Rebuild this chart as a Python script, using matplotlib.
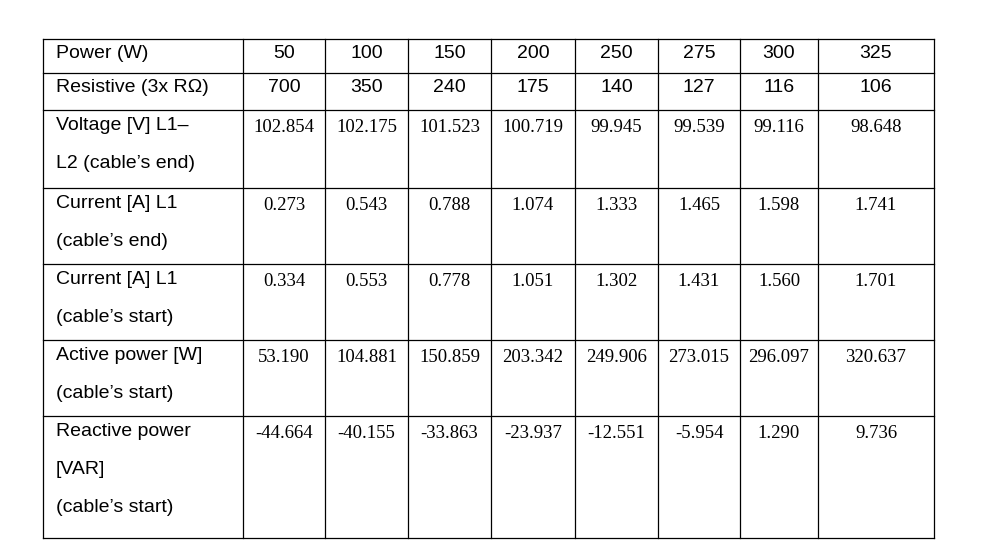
import matplotlib
matplotlib.use("Agg")
import matplotlib.pyplot as plt

power = ["50", "100", "150", "200", "250", "275", "300", "325"]
resistive = ["700", "350", "240", "175", "140", "127", "116", "106"]
voltage = ["102.854", "102.175", "101.523", "100.719", "99.945", "99.539", "99.116", "98.648"]
current_end = ["0.273", "0.543", "0.788", "1.074", "1.333", "1.465", "1.598", "1.741"]
current_start = ["0.334", "0.553", "0.778", "1.051", "1.302", "1.431", "1.560", "1.701"]
active = ["53.190", "104.881", "150.859", "203.342", "249.906", "273.015", "296.097", "320.637"]
reactive = ["-44.664", "-40.155", "-33.863", "-23.937", "-12.551", "-5.954", "1.290", "9.736"]

row_labels = [["Power (W)"], ["Resistive (3x R\u03a9)"], ["Voltage [V] L1\u2013", "L2 (cable\u2019s end)"],
              ["Current [A] L1", "(cable\u2019s end)"], ["Current [A] L1", "(cable\u2019s start)"],
              ["Active power [W]", "(cable\u2019s start)"], ["Reactive power", "[VAR]", "(cable\u2019s start)"]]
rows = [power, resistive, voltage, current_end, current_start, active, reactive]

col_x = [43, 243, 325, 408, 491, 575, 658, 740, 818, 934]
row_y = [39, 73, 110, 188, 264, 340, 416, 538]

fig = plt.figure(figsize=(9.84, 5.52), dpi=100)
ax = fig.add_axes([0, 0, 1, 1])
ax.set_xlim(0, 984)
ax.set_ylim(552, 0)
ax.axis("off")

for x in col_x:
    ax.plot([x, x], [row_y[0], row_y[-1]], color="black", lw=0.9)
for y in row_y:
    ax.plot([col_x[0], col_x[-1]], [y, y], color="black", lw=0.9)

for r, (lab, vals) in enumerate(zip(row_labels, rows)):
    top = row_y[r]
    for k, line in enumerate(lab):
        ax.text(56, top + 15 + k * 38, line, family="Liberation Sans", fontsize=14,
                va="center", ha="left")
    serif = r >= 2
    for c, v in enumerate(vals):
        cx = (col_x[c + 1] + col_x[c + 2]) / 2
        ax.text(cx, top + 17 if serif else top + 15, v,
                family="Liberation Serif" if serif else "Liberation Sans",
                fontsize=13.5 if serif else 14, va="center", ha="center")

fig.savefig("out.png", dpi=100, facecolor="white")
